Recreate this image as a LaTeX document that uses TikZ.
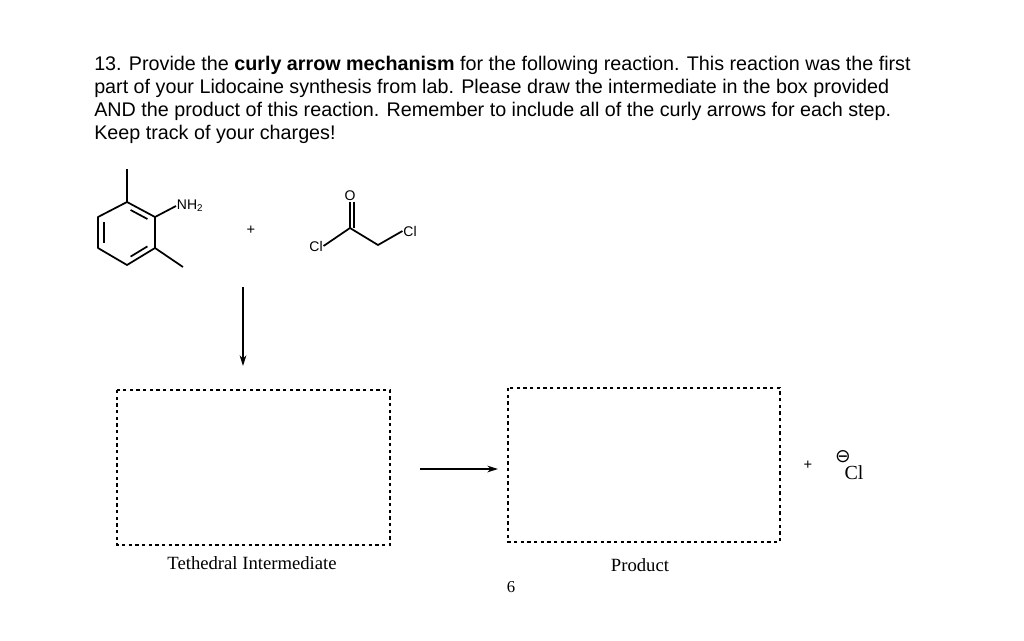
\documentclass[tikz,border=0pt]{standalone}
\usepackage{fontspec}
\setmainfont{Liberation Sans}
\newfontfamily\serifx{Liberation Serif}
\newfontfamily\symx{DejaVu Sans}
\usetikzlibrary{arrows.meta,calc}
\begin{document}
\begin{tikzpicture}[x=0.75pt,y=-0.75pt,
  bond/.style={line width=1.3pt},
  dbox/.style={draw,line width=0.9pt,dash pattern=on 2.5pt off 2.5pt},
  lab/.style={inner sep=0.5pt,font=\fontsize{10.5}{11}\selectfont},
  arr/.style={line width=0.9pt,-{Stealth[length=8pt,width=5pt]}}]
\useasboundingbox (0,0) rectangle (1024,640);
\node[anchor=north west,align=left,inner sep=0,font=\fontsize{14.8}{17.25}\selectfont] (q) at (94,56)
{13. Provide the \textbf{curly arrow mechanism} for the following reaction. This reaction was the first\\
part of your Lidocaine synthesis from lab. Please draw the intermediate in the box provided\\
AND the product of this reaction. Remember to include all of the curly arrows for each step.\\
Keep track of your charges!};
% xylidine
\coordinate (a1) at (127,202);
\coordinate (a2) at (155,217);
\coordinate (a3) at (155,248);
\coordinate (a4) at (127,265);
\coordinate (a5) at (98,248);
\coordinate (a6) at (98,217);
\draw[bond,line join=round] (a1)--(a2)--(a3)--(a4)--(a5)--(a6)--cycle;
\draw[bond] ($(a1)!0.2!(a2)+(-2,5)$) -- ($(a1)!0.8!(a2)+(-2,5)$);
\draw[bond] (104,222) -- (104,243);
\draw[bond] ($(a3)!0.2!(a4)+(-2,-5)$) -- ($(a3)!0.8!(a4)+(-2,-5)$);
\node[lab,anchor=west] (nh) at (176,206) {NH\textsubscript{2}};
\draw[bond] (a1) -- (127,169);
\draw[bond] (a2) -- (nh.west);
\draw[bond] (a3) -- (183,267);
\node (plus1) at (251,230) {\fontsize{11}{11}\selectfont +};
% chloroacetyl chloride
\node[lab] (cl1) at (316,246) {Cl};
\node[lab] (o) at (350,196) {O};
\coordinate (c1) at (350,228);
\coordinate (c2) at (378,245);
\node[lab] (cl2) at (410,231) {Cl};
\draw[bond] (cl1.east) -- (c1) -- (c2) -- (cl2.west);
\draw[bond] (c1) -- (o.south);
\draw[bond] ($(c1)+(4,0)$) -- ($(o.south)+(4,0)$);
% arrows and boxes
\coordinate (v1) at (243,287); \coordinate (v2) at (243,366);
\draw[arr] (v1) -- (v2);
\draw[dbox] (117,390) rectangle (390,545);
\draw[dbox] (508,388) rectangle (780,542);
\coordinate (h1) at (420,469); \coordinate (h2) at (498,469);
\draw[arr] (h1) -- (h2);
\node (plus2) at (808,465) {\fontsize{11}{11}\selectfont +};
\node[font=\serifx\fontsize{15}{15}\selectfont] (cl) at (854,473) {Cl};
\node[font=\symx\fontsize{14}{14}\selectfont] (minus) at (843,457) {⊖};
\node[font=\serifx\fontsize{14}{16}\selectfont] (t1) at (252,563) {Tethedral Intermediate};
\node[font=\serifx\fontsize{14}{16}\selectfont] (t2) at (640,565) {Product};
\node[font=\serifx\fontsize{12.5}{14}\selectfont] (pg) at (511,587) {6};
\end{tikzpicture}
\end{document}
